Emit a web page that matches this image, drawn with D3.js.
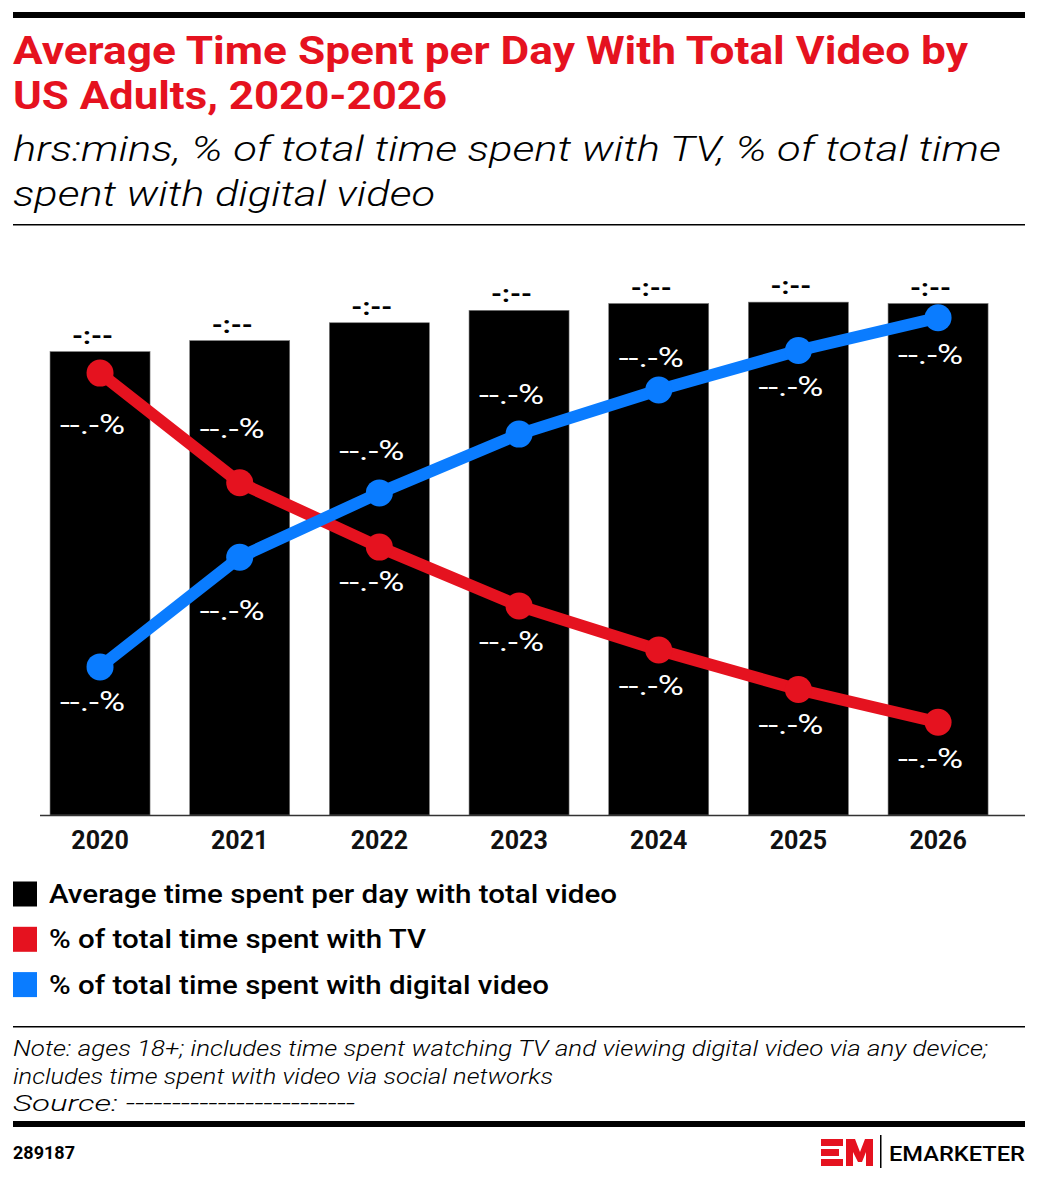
<!DOCTYPE html>
<html><head><meta charset="utf-8">
<script src="https://cdnjs.cloudflare.com/ajax/libs/d3/7.8.5/d3.min.js"></script>
<style>
html,body{margin:0;padding:0;background:#fff;}
svg{display:block;font-family:Roboto,"Noto Sans",sans-serif;}
</style></head>
<body>
<script>
// ---- data ----
const years = ["2020","2021","2022","2023","2024","2025","2026"];
// average time spent per day with total video, minutes (label hidden as -:--)
const totalMinutes = [337, 345, 358, 367, 372, 373, 372];
const totalLabels = ["-:--","-:--","-:--","-:--","-:--","-:--","-:--"];
// % of total time spent with TV
const tvShare = [63.0, 53.3, 47.6, 42.4, 38.5, 35.0, 32.1];
// % of total time spent with digital video
const digitalShare = [37.0, 46.7, 52.4, 57.6, 61.5, 65.0, 67.9];
const tvLabels = ["--.-%","--.-%","--.-%","--.-%","--.-%","--.-%","--.-%"];
const digitalLabels = ["--.-%","--.-%","--.-%","--.-%","--.-%","--.-%","--.-%"];
const legendItems = ["Average time spent per day with total video","% of total time spent with TV","% of total time spent with digital video"];

// label placement (vertical offset of label centre from its point)
const tvLabelOffset = [52, -54, 35, 36, 36, 35, 37];
const digitalLabelOffset = [35, 54, -42, -39, -32, 36, 37];

const RED = "#E5121F", BLUE = "#0A7CFF";
const W = 1038, H = 1182;
const svg = d3.select("body").append("svg").attr("width", W).attr("height", H);

function fitText(sel, len){ sel.attr("textLength", len).attr("lengthAdjust","spacingAndGlyphs"); return sel; }

// top rule
svg.append("rect").attr("x",13).attr("y",12).attr("width",1012).attr("height",6).attr("fill","#000");
// title
fitText(svg.append("text").attr("x",13).attr("y",64).attr("fill",RED).attr("font-size",38).attr("font-weight",700)
  .text("Average Time Spent per Day With Total Video by"),955);
fitText(svg.append("text").attr("x",13).attr("y",109).attr("fill",RED).attr("font-size",38).attr("font-weight",700)
  .text("US Adults, 2020-2026"),434);
fitText(svg.append("text").attr("x",13).attr("y",161).attr("fill","#000").attr("font-size",35).attr("font-style","italic").attr("font-weight",300)
  .text("hrs:mins, % of total time spent with TV, % of total time"),988);
fitText(svg.append("text").attr("x",13).attr("y",206).attr("fill","#000").attr("font-size",35).attr("font-style","italic").attr("font-weight",300)
  .text("spent with digital video"),422);
svg.append("rect").attr("x",13).attr("y",224).attr("width",1012).attr("height",1.5).attr("fill","#000");

// scales
const x = d3.scaleBand().domain(years).range([30.2, 1007.9]).paddingInner(0.284).paddingOuter(0.142);
const yBar = d3.scaleLinear().domain([0, 400]).range([815, 265]);
const yPct = d3.scaleLinear().domain([0, 100]).range([1085, -45]);
const cx = d => x(d) + x.bandwidth()/2;

// bars
svg.append("g").selectAll("rect").data(years).join("rect")
  .attr("x", d => x(d)).attr("width", x.bandwidth())
  .attr("y", (d,i) => yBar(totalMinutes[i])).attr("height", (d,i) => yBar(0) - yBar(totalMinutes[i]))
  .attr("fill","#000").attr("stroke","#777").attr("stroke-width",0.6);

// bar labels
svg.append("g").selectAll("text").data(years).join("text")
  .attr("x", d => cx(d) - 28).attr("y", (d,i) => yBar(totalMinutes[i]) - 8)
  .attr("font-size",24).attr("font-weight",700).attr("fill","#000")
  .attr("textLength",41).attr("lengthAdjust","spacingAndGlyphs")
  .text((d,i) => totalLabels[i]);

// axis
const xAxis = svg.append("g").attr("transform","translate(0,815)")
  .call(d3.axisBottom(x).tickSize(0).tickPadding(16));
xAxis.select(".domain").remove();
xAxis.selectAll("text").attr("font-size",25).attr("font-weight",700).attr("fill","#111")
  .attr("font-family","Roboto,sans-serif").attr("dy","0.71em");
svg.append("line").attr("x1",40).attr("x2",1025).attr("y1",815.5).attr("y2",815.5).attr("stroke","#333").attr("stroke-width",1.5);

// lines
function drawSeries(vals, color){
  const line = d3.line().x((d,i) => cx(years[i])).y(d => yPct(d));
  svg.append("path").datum(vals).attr("d", line).attr("fill","none").attr("stroke",color)
    .attr("stroke-width",12).attr("stroke-linejoin","round");
  svg.append("g").selectAll("circle").data(vals).join("circle")
    .attr("cx",(d,i) => cx(years[i])).attr("cy", d => yPct(d)).attr("r",13.5).attr("fill",color);
}
drawSeries(tvShare, RED);
drawSeries(digitalShare, BLUE);

function drawLabels(vals, labels, offsets){
  svg.append("g").selectAll("text").data(vals).join("text")
    .attr("x",(d,i) => cx(years[i]) - 40).attr("y",(d,i) => yPct(d) + offsets[i] + 9)
    .attr("font-size",27).attr("font-weight",400).attr("fill","#fff")
    .attr("textLength",65).attr("lengthAdjust","spacingAndGlyphs")
    .text((d,i) => labels[i]);
}
drawLabels(tvShare, tvLabels, tvLabelOffset);
drawLabels(digitalShare, digitalLabels, digitalLabelOffset);

// legend
const legColors = ["#000", RED, BLUE];
const legLens = [568, 377, 500];
legendItems.forEach((t,i) => {
  const cy = 894 + i*45.3;
  svg.append("rect").attr("x",13).attr("y",cy-12.5).attr("width",24).attr("height",25).attr("fill",legColors[i]);
  fitText(svg.append("text").attr("x",49).attr("y",cy+9).attr("font-size",25).attr("font-weight",500).attr("fill","#000").text(t), legLens[i]);
});

// footer
svg.append("rect").attr("x",13).attr("y",1026).attr("width",1012).attr("height",1.5).attr("fill","#000");
const notes = ["Note: ages 18+; includes time spent watching TV and viewing digital video via any device;",
  "includes time spent with video via social networks",
  "Source: -------------------------"];
const noteLens = [975, 540, 342];
notes.forEach((t,i) => {
  fitText(svg.append("text").attr("x",13).attr("y",1056 + i*27.7).attr("font-size",22).attr("font-style","italic").attr("font-weight",300)
    .attr("fill","#000").text(t), noteLens[i]);
});
svg.append("rect").attr("x",13).attr("y",1121).attr("width",1012).attr("height",6).attr("fill","#000");
svg.append("text").attr("x",13).attr("y",1159).attr("font-size",18).attr("font-weight",700).attr("fill","#000").text("289187");

// logo
const logo = svg.append("g").attr("fill",RED);
logo.append("rect").attr("x",821).attr("y",1139).attr("width",22).attr("height",7);
logo.append("rect").attr("x",821).attr("y",1149).attr("width",18).attr("height",7);
logo.append("rect").attr("x",821).attr("y",1159).attr("width",22).attr("height",7);
logo.append("path").attr("d","M846,1166 L846,1139 L855,1139 L860,1152 L865,1139 L873,1139 L873,1166 L866,1166 L866,1152 L862,1162 L858,1162 L853,1152 L853,1166 Z");
svg.append("rect").attr("x",880).attr("y",1135).attr("width",1.5).attr("height",33).attr("fill","#000");
fitText(svg.append("text").attr("x",889).attr("y",1161).attr("font-size",21).attr("font-weight",500).attr("fill","#000").text("EMARKETER"),136);
</script>
</body></html>
